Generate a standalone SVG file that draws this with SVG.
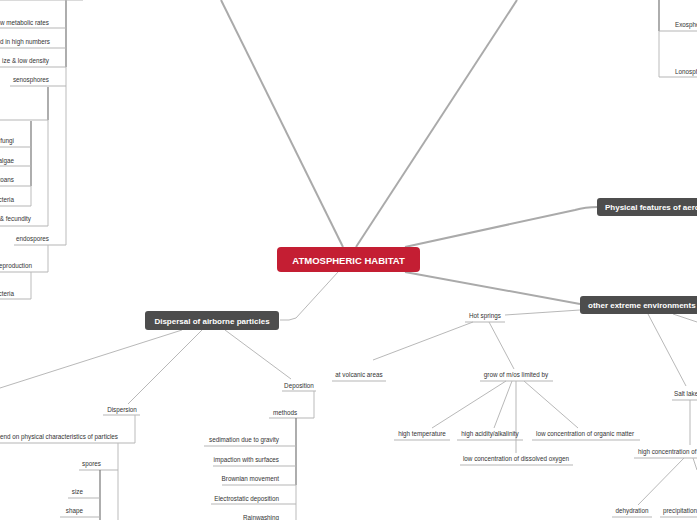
<svg xmlns="http://www.w3.org/2000/svg" width="697" height="520" viewBox="0 0 697 520">
<style>
text{font-family:"Liberation Sans",Arial,sans-serif;font-size:6.3px;fill:#333}
.r{text-anchor:end}.m{text-anchor:middle}
.hd{font-size:8px;font-weight:bold;fill:#fff;text-anchor:middle}
.u{stroke:#b5b5b5;stroke-width:1;fill:none}
.v{stroke:#777;stroke-width:1.2;fill:none}
.vl{stroke:#bbb;stroke-width:1;fill:none}
.c{stroke:#999;stroke-width:0.7;fill:none}
.t{stroke:#aaa;stroke-width:2;fill:none}
</style>
<rect width="697" height="520" fill="#fff"/>
<g id="connectors">
<path class="t" d="M343 247 L221 0"/>
<path class="t" d="M356 247 L517 0"/>
<path class="t" d="M405 247 L575 210 Q585 207 598 207"/>
<path class="t" d="M405 272 L580 304"/>
<path class="c" d="M338 272 L296 318 Q290 321 280 320"/>
<path class="c" d="M182 330 L0 388"/>
<path class="c" d="M202 330 L128 404"/>
<path class="c" d="M225 330 L291 379"/>
<path class="c" d="M580 310 L505 315"/>
<path class="c" d="M648 314 L686 386"/>
<path class="c" d="M673 314 L697 322"/>
<path class="c" d="M473 322 L373 360"/>
<path class="c" d="M489 322 L514 369"/>
<path class="c" d="M506 381 L432 428"/>
<path class="c" d="M512 381 L494 428"/>
<path class="c" d="M516 381 L516 453"/>
<path class="c" d="M524 381 L578 428"/>
<path class="c" d="M690 400 L690 445"/>
<path class="c" d="M684 458 L638 505"/>
<path class="c" d="M693 458 L697 470"/>
<path class="v" d="M66 0 V67"/><path class="vl" d="M66 67 V245"/>
<path class="u" d="M0 0 H83"/>
<path class="u" d="M0 28 H66 M0 48 H66 M0 67 H66 M10 86 H66"/>
<path class="v" d="M48 87 V120"/><path class="vl" d="M48 120 V226"/>
<path class="u" d="M0 120 H48"/>
<path class="v" d="M31 121 V186"/><path class="vl" d="M31 186 V206"/>
<path class="u" d="M0 147 H31 M0 166 H31 M0 186 H31 M0 206 H31 M0 226 H48 M14 245 H66"/>
<path class="vl" d="M48 245 V272"/><path class="u" d="M0 272 H48"/>
<path class="vl" d="M31 272 V299"/><path class="u" d="M0 299 H31"/>
<path class="v" d="M659 0 V31"/><path class="vl" d="M659 31 V77"/>
<path class="u" d="M659 31 H697 M659 77 H697"/>
<path class="u" d="M103 415 H140"/><path class="vl" d="M135 415 V443"/>
<path class="u" d="M0 443 H135"/><path class="vl" d="M118 443 V520"/>
<path class="u" d="M79 470 H118"/><path class="v" d="M100 470 V520"/>
<path class="u" d="M68 498 H100 M60 517 H100"/>
<path class="u" d="M282 391 H316"/><path class="vl" d="M314 391 V418"/>
<path class="u" d="M269 418 H314"/><path class="v" d="M296 418 V485"/><path class="vl" d="M296 485 V520"/>
<path class="u" d="M204 446 H296 M213 466 H296 M222 485 H296 M211 504 H296"/>
<path class="u" d="M465 322 H505 M332 381 H386 M480 381 H553 M394 440 H450 M457 440 H523 M460 465 H573 M532 440 H640 M672 400 H697 M634 458 H697 M612 517 H652 M660 517 H697"/>
</g>
<g id="n-center"><rect x="277" y="247" width="143" height="25" rx="4" fill="#c41e33"/><text x="348.5" y="264" class="hd" style="font-size:9.5px">ATMOSPHERIC HABITAT</text></g>
<g id="n-dispersal"><rect x="145" y="311" width="134" height="19" rx="3" fill="#4d4d4d"/><text x="212" y="323.5" class="hd">Dispersal of airborne particles</text></g>
<g id="n-physical"><rect x="597" y="198" width="115" height="18" rx="3" fill="#4d4d4d"/><text x="605" y="210" class="hd" style="text-anchor:start">Physical features of aerosphere</text></g>
<g id="n-other"><rect x="580" y="296" width="130" height="18" rx="3" fill="#4d4d4d"/><text x="588" y="308" class="hd" style="text-anchor:start">other extreme environments</text></g>
<g id="labels-tl">
<text x="49" y="25" class="r">w metabolic rates</text>
<text x="50" y="44" class="r">d in high numbers</text>
<text x="49" y="63" class="r">ize &amp; low density</text>
<text x="49" y="82" class="r">senosphores</text>
<text x="14" y="143" class="r">fungi</text>
<text x="14" y="163" class="r">algae</text>
<text x="14" y="182" class="r">zoans</text>
<text x="14" y="202" class="r">cteria</text>
<text x="31" y="221" class="r">&amp; fecundity</text>
<text x="49" y="241" class="r">endospores</text>
<text x="32" y="268" class="r">eproduction</text>
<text x="14" y="296" class="r">cteria</text>
<text x="675" y="27">Exosphere</text>
<text x="675" y="74">Lonosphere</text>
</g>
<g id="labels-dispersal">
<text x="122" y="412" class="m">Dispersion</text>
<text x="118" y="439" class="r">pend on physical characteristics of particles</text>
<text x="101" y="466" class="r">spores</text>
<text x="83" y="494" class="r">size</text>
<text x="83" y="513" class="r">shape</text>
<text x="299" y="388" class="m">Deposition</text>
<text x="285" y="415" class="m">methods</text>
<text x="279" y="442" class="r">sedimation due to gravity</text>
<text x="279" y="462" class="r">impaction with surfaces</text>
<text x="279" y="481" class="r">Brownian movement</text>
<text x="279" y="501" class="r">Electrostatic deposition</text>
<text x="279" y="520" class="r">Rainwashing</text>
</g>
<g id="labels-other">
<text x="485" y="318" class="m">Hot springs</text>
<text x="359" y="377" class="m">at volcanic areas</text>
<text x="516" y="377" class="m">grow of m/os limited by</text>
<text x="422" y="436" class="m">high temperature</text>
<text x="490" y="436" class="m">high acidity/alkalinity</text>
<text x="516" y="461" class="m">low concentration of dissolved oxygen</text>
<text x="585" y="436" class="m">low concentration of organic matter</text>
<text x="674" y="396">Salt lake</text>
<text x="638" y="454">high concentration of salts</text>
<text x="632" y="513" class="m">dehydration</text>
<text x="663" y="513">precipitation</text>
</g>
</svg>
